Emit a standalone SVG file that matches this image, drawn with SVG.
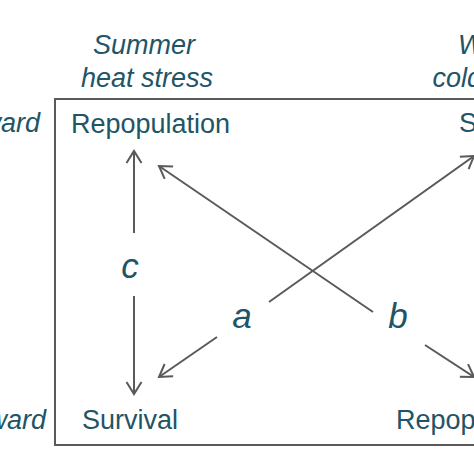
<svg xmlns="http://www.w3.org/2000/svg" width="474" height="474" viewBox="0 0 474 474">
<style>
.lbl{font-family:"Liberation Sans",Arial,sans-serif;font-size:27px;fill:#1f5566}
.it{font-style:italic}
.big{font-family:"Liberation Sans",Arial,sans-serif;font-size:35px;font-style:italic;fill:#1f5566;text-anchor:middle}
.ln{stroke:#5a5a5a;stroke-width:2;fill:none}
</style>
<defs>
<marker id="arr" markerUnits="userSpaceOnUse" markerWidth="24" markerHeight="24" viewBox="-16 -12 24 24" refX="0" refY="0" orient="auto">
<path d="M-12,-7.5 L0,0 L-12,7.5" fill="none" stroke="#5a5a5a" stroke-width="2"/>
</marker>
</defs>
<rect x="55" y="99" width="440" height="346" fill="none" stroke="#5a5a5a" stroke-width="2"/>
<g id="col-summer"><text class="lbl it" x="144" y="54" text-anchor="middle">Summer</text><text class="lbl it" x="147" y="87" text-anchor="middle">heat stress</text></g>
<g id="col-winter"><text class="lbl it" x="497" y="54" text-anchor="middle">Winter</text><text class="lbl it" x="497" y="87" text-anchor="middle">cold stress</text></g>
<g id="row-pole"><text class="lbl it" x="40" y="132" text-anchor="end">Poleward</text></g>
<g id="row-equator"><text class="lbl it" x="46" y="429" text-anchor="end">Equatorward</text></g>
<g id="n-repop-left"><text class="lbl" x="71" y="133">Repopulation</text></g>
<g id="n-surv-left"><text class="lbl" x="82" y="429">Survival</text></g>
<g id="n-surv-right"><text class="lbl" x="459" y="132">Survival</text></g>
<g id="n-repop-right"><text class="lbl" x="396" y="429">Repopulation</text></g>
<g id="connectors">
<line class="ln" x1="134" y1="233" x2="134" y2="151" marker-end="url(#arr)"/>
<line class="ln" x1="134" y1="296" x2="134" y2="394" marker-end="url(#arr)"/>
<line class="ln" x1="217" y1="337" x2="159" y2="377" marker-end="url(#arr)"/>
<line class="ln" x1="269" y1="302" x2="474" y2="156" marker-end="url(#arr)"/>
<line class="ln" x1="373" y1="312" x2="159" y2="166" marker-end="url(#arr)"/>
<line class="ln" x1="425" y1="345" x2="474" y2="377" marker-end="url(#arr)"/>
</g>
<g id="labels">
<text class="big" x="130" y="278">c</text>
<text class="big" x="242" y="328">a</text>
<text class="big" x="398" y="328">b</text>
</g>
</svg>
